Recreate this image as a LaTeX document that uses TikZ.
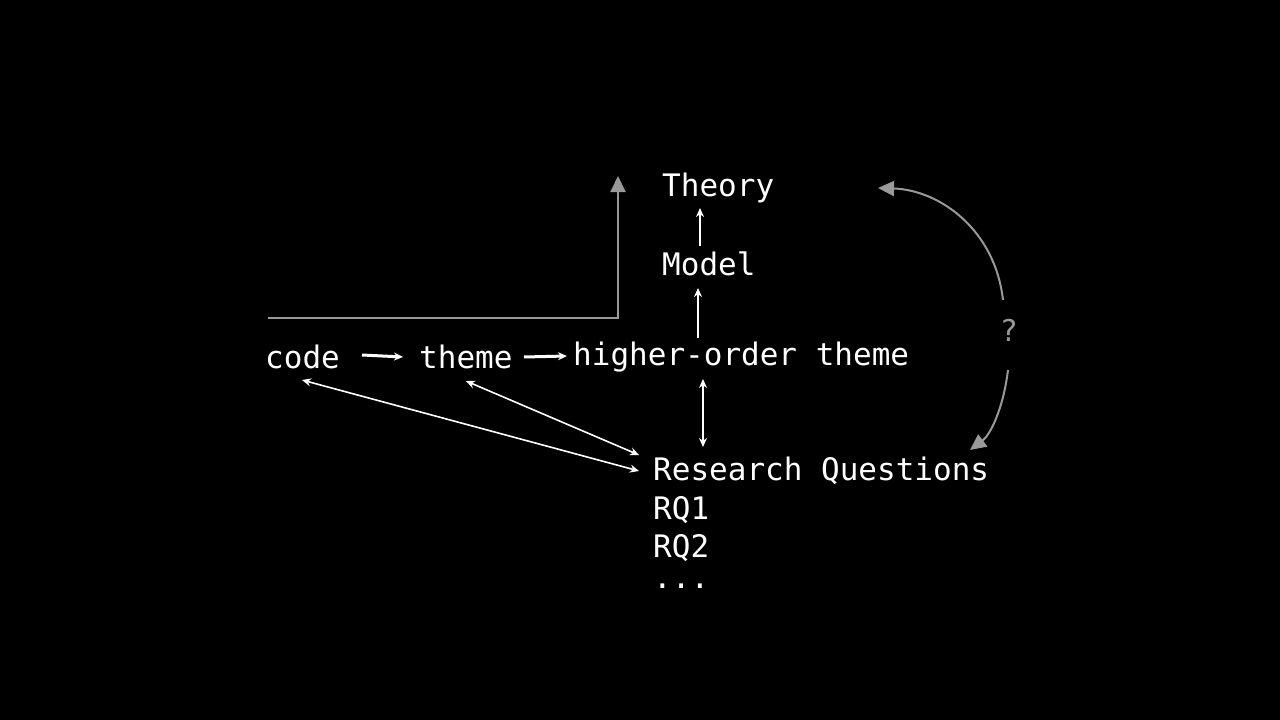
\documentclass[tikz,border=0pt]{standalone}
\usepackage{fontspec}
\setmonofont{DejaVu Sans Mono}
\usetikzlibrary{arrows.meta}
\begin{document}
\begin{tikzpicture}[x=1pt,y=-1pt,
  lbl/.style={anchor=west,inner sep=0pt,text=white,font=\ttfamily\fontsize{31}{31}\selectfont},
  wa/.style={draw=white,line width=1.6pt,-{Stealth[length=9pt,width=8pt]}},
  wb/.style={draw=white,line width=1.6pt,{Stealth[length=9pt,width=8pt]}-{Stealth[length=9pt,width=8pt]}},
  ga/.style={draw=gray!80,line width=2pt,-{Triangle[length=16pt,width=15pt]}}]
\fill[black] (0,0) rectangle (1280,720);
\useasboundingbox (0,0) rectangle (1280,720);
\node[lbl] (theory) at (662,188) {Theory};
\node[lbl] (model) at (662,264) {Model};
\node[lbl] (code) at (265,357) {code};
\node[lbl] (theme) at (419,357) {theme};
\node[lbl] (hot) at (573,357) {higher-order theme};
\node[lbl] (rq) at (653,471) {Research Questions};
\node[lbl] (rq1) at (653,510) {RQ1};
\node[lbl] (rq2) at (653,548) {RQ2};
\node[lbl] (dots) at (653,586) {...};
\node[text=gray!80,font=\ttfamily\fontsize{30}{30}\selectfont,inner sep=0pt] (q) at (1009,330) {?};
\draw[wa,line width=3pt] (362,355) -- (403,357);
\draw[wa,line width=3pt] (524,357) -- (567,356);
\draw[wa] (698,338) -- (698,288);
\draw[wa] (700,246) -- (700,208);
\draw[wb] (703,379) -- (703,447);
\draw[wb] (639,471) -- (302,380);
\draw[wb] (639,455) -- (466,381);
\draw[ga] (268,318) -- (618,318) -- (618,176);
\draw[ga] (1003,300) .. controls (995,230) and (940,190) .. (878,188);
\draw[ga] (1008,370) .. controls (1003,410) and (990,435) .. (970,450);
\end{tikzpicture}
\end{document}
